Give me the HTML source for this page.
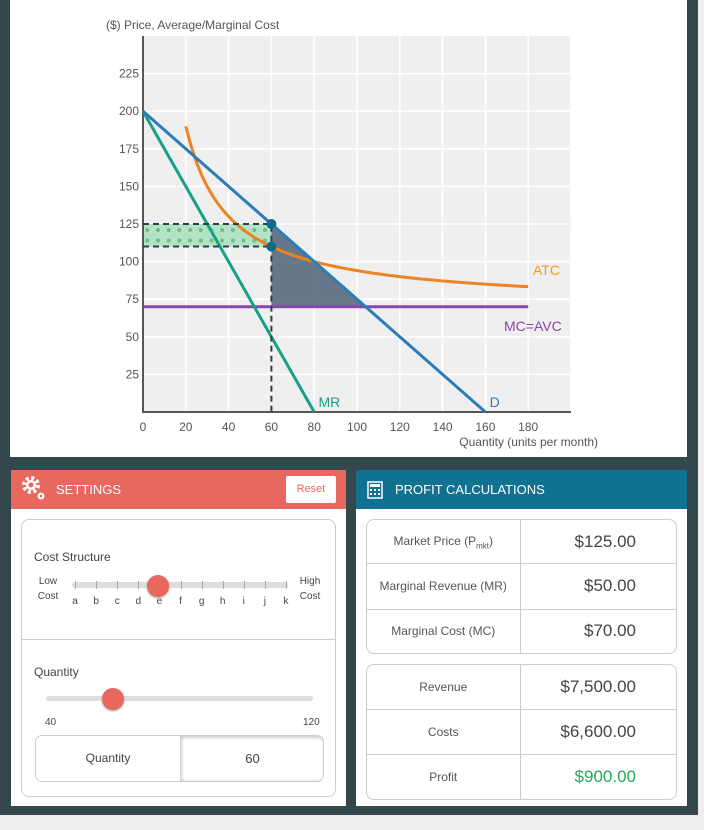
<!DOCTYPE html>
<html><head><meta charset="utf-8"><style>
*{box-sizing:border-box;margin:0;padding:0}
body{width:704px;height:830px;background:#eeeeee;font-family:"Liberation Sans","DejaVu Sans",sans-serif;position:relative;overflow:hidden;color:#444}
#frame{position:absolute;left:0;top:0;width:698px;height:815px;background:#34474c}
#top{position:absolute;left:10px;top:0;width:677px;height:457px;background:#fff}
.panel{position:absolute;top:470px;height:336px;background:#fff}
.hdr{height:39px;color:#fff;font-size:13px;line-height:39px;position:relative}
.card{position:absolute;border:1px solid #ccc;border-radius:8px;background:#fff}
.tbl{width:100%;border-collapse:collapse;height:100%}
.tbl td{border-bottom:1px solid #ccc;font-size:12px;color:#555;text-align:center}
.tbl tr:last-child td{border-bottom:none}
.tbl td.v{border-left:1px solid #ccc;font-size:17px;color:#444;text-align:right;padding-right:40px}
</style></head><body>
<div id="frame"></div>
<div id="top">
<svg id="chart" width="677" height="457"></svg>
</div>

<div class="panel" style="left:11px;width:335px">
 <div class="hdr" style="background:#e8675f">
  <svg width="30" height="30" style="position:absolute;left:9px;top:4px">
   <circle cx="11" cy="11" r="7" fill="none" stroke="#fff" stroke-width="4" stroke-dasharray="3 2.5"/><circle cx="11" cy="11" r="5" fill="#fff"/><circle cx="11" cy="11" r="2.5" fill="#e8675f"/>
   <circle cx="21" cy="22" r="3.5" fill="#fff"/><circle cx="21" cy="22" r="1.3" fill="#e8675f"/>
  </svg>
  <span style="position:absolute;left:45px">SETTINGS</span>
  <div style="position:absolute;right:10px;top:6px;width:50px;height:27px;background:#fff;border-radius:2px;color:#e8675f;font-size:11px;line-height:27px;text-align:center">Reset</div>
 </div>
 <div class="card" style="left:10px;top:49px;width:315px;height:278px">
  <div style="position:absolute;left:12px;top:30px;font-size:12px">Cost Structure</div>
  <div style="position:absolute;left:6px;top:54px;width:40px;font-size:10px;text-align:center;line-height:15px">Low<br>Cost</div>
  <div style="position:absolute;left:268px;top:54px;width:40px;font-size:10px;text-align:center;line-height:15px">High<br>Cost</div>
  <div style="position:absolute;left:50px;top:62px;width:216px;height:6px;background:#ddd;border-radius:3px"></div>
  <div id="ticks"></div>
  <div style="position:absolute;left:125px;top:55px;width:22px;height:22px;border-radius:50%;background:#e8675f;box-shadow:0 1px 2px #999"></div>
  <div style="position:absolute;left:0;top:119px;width:313px;height:1px;background:#ccc"></div>
  <div style="position:absolute;left:12px;top:145px;font-size:12px">Quantity</div>
  <div style="position:absolute;left:24px;top:176px;width:267px;height:5px;background:#ddd;border-radius:3px"></div>
  <div style="position:absolute;left:80px;top:168px;width:22px;height:22px;border-radius:50%;background:#e8675f;box-shadow:0 1px 2px #999"></div>
  <div style="position:absolute;left:23px;top:197px;font-size:10px">40</div>
  <div style="position:absolute;left:281px;top:197px;font-size:10px">120</div>
  <div style="position:absolute;left:13px;top:215px;width:289px;height:47px;border:1px solid #ccc;border-radius:7px;overflow:hidden">
   <div style="position:absolute;left:0;top:0;width:144px;height:45px;line-height:45px;text-align:center;font-size:12px">Quantity</div>
   <div style="position:absolute;left:144px;top:0;width:145px;height:45px;line-height:45px;text-align:center;font-size:13px;box-shadow:inset 1px 1px 4px #bbb;border-radius:0 7px 7px 0">60</div>
  </div>
 </div>
</div>

<div class="panel" style="left:356px;width:331px">
 <div class="hdr" style="background:#117190">
  <svg width="16" height="18" style="position:absolute;left:11px;top:11px">
   <rect x="1" y="1" width="14" height="16" fill="none" stroke="#fff" stroke-width="1.5"/><rect x="3" y="3" width="10" height="3" fill="#fff"/>
   <g fill="#fff"><rect x="3" y="8" width="2" height="2"/><rect x="7" y="8" width="2" height="2"/><rect x="11" y="8" width="2" height="2"/><rect x="3" y="12" width="2" height="2"/><rect x="7" y="12" width="2" height="2"/><rect x="11" y="12" width="2" height="2"/></g>
  </svg>
  <span style="position:absolute;left:39px">PROFIT CALCULATIONS</span>
 </div>
 <div class="card" style="left:10px;top:49px;width:311px;height:135px">
  <table class="tbl"><tr><td style="width:153px">Market Price (P<sub style="font-size:8px">mkt</sub>)</td><td class="v">$125.00</td></tr>
  <tr><td>Marginal Revenue (MR)</td><td class="v">$50.00</td></tr>
  <tr><td>Marginal Cost (MC)</td><td class="v">$70.00</td></tr></table>
 </div>
 <div class="card" style="left:10px;top:194px;width:311px;height:136px">
  <table class="tbl"><tr><td style="width:153px">Revenue</td><td class="v">$7,500.00</td></tr>
  <tr><td>Costs</td><td class="v">$6,600.00</td></tr>
  <tr><td>Profit</td><td class="v" style="color:#2aa85a">$900.00</td></tr></table>
 </div>
</div>

<script>
const xTicks=[0,20,40,60,80,100,120,140,160,180];
const yTicks=[25,50,75,100,125,150,175,200,225];
const demandPoints=[[0,200],[160,0]];
const mrPoints=[[0,200],[80,0]];
const mcLevel=70;
const atcFixed=2400;
const atcRange=[20,180];
const quantity=60;
const price=125;
const atcAtQ=110;
const costLetters=['a','b','c','d','e','f','g','h','i','j','k'];

const NS='http://www.w3.org/2000/svg';
const svg=document.getElementById('chart');
const OX=133,OY=412;
const sx=q=>OX+q*(428/200);
const sy=p=>OY-p*(376/250);
function mk(tag,attrs,parent){const e=document.createElementNS(NS,tag);for(const k in attrs)e.setAttribute(k,attrs[k]);(parent||svg).appendChild(e);return e;}
const bg=mk('rect',{x:sx(0),y:sy(250),width:sx(200)-sx(0),height:sy(0)-sy(250),fill:'#efefef'});


for(const t of xTicks.concat([200])){const l=mk('line',{x1:sx(t),x2:sx(t),y1:sy(250),y2:sy(0),stroke:'#fff','stroke-width':1.5});

}
for(const t of yTicks){const l=mk('line',{x1:sx(0),x2:sx(200),y1:sy(t),y2:sy(t),stroke:'#fff','stroke-width':1.5});

}
const tx=(x,y,s,attrs)=>{const e=mk('text',Object.assign({x:x,y:y,'font-size':12,fill:'#555','font-family':'Liberation Sans, sans-serif'},attrs||{}));e.textContent=s;return e;};
for(const t of xTicks){const e=tx(sx(t),431,t,{'text-anchor':'middle'});

}
for(const t of yTicks){const e=tx(sx(0)-4,sy(t)+4,t,{'text-anchor':'end'});

}
let e=tx(96,29,'($) Price, Average/Marginal Cost',{'font-size':12});


e=tx(588,446,'Quantity (units per month)',{'font-size':12,'text-anchor':'end'});


e=mk('rect',{x:sx(0),y:sy(price),width:sx(quantity)-sx(0),height:sy(atcAtQ)-sy(price),fill:'#b3e3c4'});


for(let q=2;q<quantity;q+=5){for(const p of [price-4,atcAtQ+4]){const d=mk('circle',{cx:sx(q),cy:sy(p),r:2,fill:'#6cbf8a'});

}}
const qAtMC=160*(1-mcLevel/200);
e=mk('polygon',{points:`${sx(quantity)},${sy(price)} ${sx(quantity)},${sy(mcLevel)} ${sx(qAtMC)},${sy(mcLevel)}`,fill:'#4f6178','fill-opacity':0.85});


e=mk('path',{d:`M${sx(0)},${sy(250)} V${sy(0)} H${sx(200)}`,stroke:'#5a5452','stroke-width':2,fill:'none'});


let pts=[];for(let q=atcRange[0];q<=atcRange[1];q+=2)pts.push(sx(q)+','+sy(mcLevel+atcFixed/q));
e=mk('polyline',{points:pts.join(' '),stroke:'#ec8425','stroke-width':3,fill:'none'});


e=mk('line',{x1:sx(0),x2:sx(180),y1:sy(mcLevel),y2:sy(mcLevel),stroke:'#8e44ad','stroke-width':3});


e=mk('line',{x1:sx(mrPoints[0][0]),y1:sy(mrPoints[0][1]),x2:sx(mrPoints[1][0]),y2:sy(mrPoints[1][1]),stroke:'#17a085','stroke-width':3});


e=mk('line',{x1:sx(demandPoints[0][0]),y1:sy(demandPoints[0][1]),x2:sx(demandPoints[1][0]),y2:sy(demandPoints[1][1]),stroke:'#2a7db8','stroke-width':3});


e=mk('path',{d:`M${sx(0)},${sy(price)} H${sx(quantity)} V${sy(0)} M${sx(0)},${sy(atcAtQ)} H${sx(quantity)}`,stroke:'#2c3e50','stroke-width':2,'stroke-dasharray':'6 4',fill:'none'});


for(const p of [price,atcAtQ]){const c=mk('circle',{cx:sx(quantity),cy:sy(p),r:5,fill:'#0f6c8c'});

}
e=tx(sx(82),407,'MR',{'font-size':14,fill:'#17a085'});


e=tx(sx(162),407,'D',{'font-size':14,fill:'#2a7db8'});


e=tx(523,275,'ATC',{'font-size':14,fill:'#f39c12'});


e=tx(494,331,'MC=AVC',{'font-size':14,fill:'#8e44ad'});



const tk=document.getElementById('ticks');
costLetters.forEach((c,i)=>{const x=53+i*21.1;
const t=document.createElement('div');t.style.cssText=`position:absolute;left:${x}px;top:61px;width:1px;height:8px;background:#aaa`;


tk.appendChild(t);
const l=document.createElement('div');l.textContent=c;l.style.cssText=`position:absolute;left:${x-5}px;top:76px;width:10px;text-align:center;font-size:10px`;


tk.appendChild(l);});
</script>
</body></html>
